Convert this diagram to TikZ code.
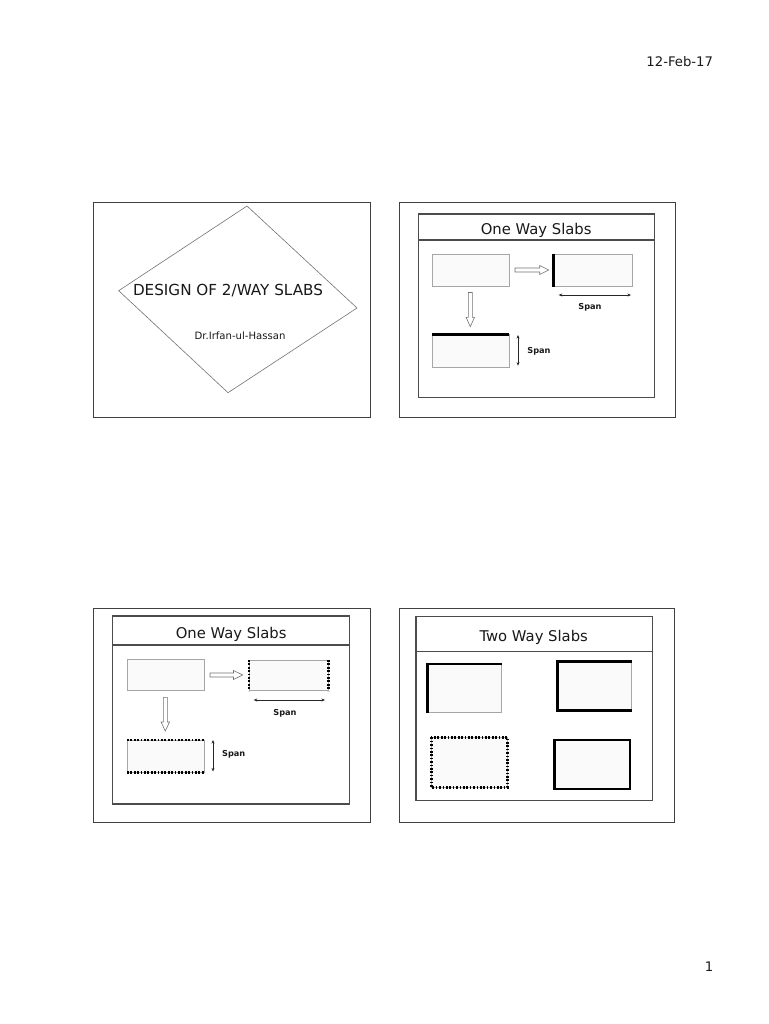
\documentclass[tikz,border=0pt]{standalone}
\usepackage{fontspec}
\setmainfont{DejaVu Sans}
\usetikzlibrary{arrows.meta}
\begin{document}
\begin{tikzpicture}[x=1pt,y=-1pt,
  slide/.style={draw=black!75,line width=0.9pt,minimum width=#1,minimum height=214pt,inner sep=0pt,anchor=north west},
  frame/.style={draw=black!70,line width=1.1pt},
  slab/.style={draw=black!35,line width=0.6pt,fill=black!2,inner sep=0pt,anchor=north west},
  heavy/.style={line width=2.6pt,black},
  dotedge/.style={line width=2.4pt,black,dash pattern=on 1.7pt off 1.7pt},
  hollow/.style={draw=black!55,line width=0.6pt,fill=white},
  spanarrow/.style={{Stealth[length=3.6pt,width=3pt]}-{Stealth[length=3.6pt,width=3pt]},line width=0.6pt,black!85},
  ttl/.style={font=\fontsize{14.8}{15}\selectfont,text=black!90,anchor=base,inner sep=0pt},
  spanlbl/.style={font=\bfseries\fontsize{8.2}{9}\selectfont,text=black!90,anchor=base,inner sep=0pt},
  pagetxt/.style={font=\fontsize{13.2}{14}\selectfont,text=black!90,anchor=base,inner sep=0pt}
]
\useasboundingbox[fill=white] (0,0) rectangle (768,1024);

% page texts
\node[pagetxt] (date) at (679.7,66.7) {12-Feb-17};
\node[pagetxt] (pnum) at (709,971) {1};

% ---------- slide 1 ----------
\node[slide=277pt] (p1) at (93,202.5) {};
\draw[draw=black!55,line width=0.6pt] (247,206) -- (357,308) -- (228,392.7) -- (118.7,290.7) -- cycle;
\node[ttl,font=\fontsize{15.2}{16}\selectfont] (t1) at (228,295) {DESIGN OF 2/WAY SLABS};
\node[ttl,font=\fontsize{10.1}{11}\selectfont] (a1) at (240,339.3) {Dr.Irfan-ul-Hassan};

% ---------- slide 2 ----------
\node[slide=276pt] (p2) at (398.5,202.5) {};
\draw[frame] (418.7,214) rectangle (654.7,397.7);
\draw[frame] (418.7,240) -- (654.7,240);
\node[ttl] (t2) at (536.2,234.3) {One Way Slabs};
\node[slab,minimum width=76.7pt,minimum height=31.4pt] (s2a) at (432,254.3) {};
\node[slab,minimum width=78.3pt,minimum height=31.7pt] (s2b) at (553.7,254.3) {};
\node[slab,minimum width=76.7pt,minimum height=32.4pt] (s2c) at (432,334.3) {};
\draw[heavy] (s2b.north west) -- (s2b.south west);
\draw[heavy] (s2c.north west) -- (s2c.north east);
% hollow arrows
\draw[hollow] (515,268) -- (539.7,268) -- (539.7,265.5) -- (548.7,270) -- (539.7,274.5) -- (539.7,272) -- (515,272) -- cycle;
\draw[hollow] (468.3,292.5) -- (472.3,292.5) -- (472.3,317.3) -- (474.5,317.3) -- (470.3,326.7) -- (466.1,317.3) -- (468.3,317.3) -- cycle;
% spans
\coordinate (h2a) at (558.7,295); \coordinate (h2b) at (631,295);
\draw[spanarrow] (h2a) -- (h2b);
\node[spanlbl] (l2a) at (590,309) {Span};
\coordinate (v2a) at (518,335); \coordinate (v2b) at (518,365.7);
\draw[spanarrow] (v2a) -- (v2b);
\node[spanlbl] (l2b) at (539,353.3) {Span};

% ---------- slide 3 ----------
\node[slide=277pt] (p3) at (93,607.5) {};
\draw[frame] (112.7,616) rectangle (349.7,804);
\draw[frame,line width=1.6pt] (112.7,645) -- (349.7,645);
\node[ttl] (t3) at (231.2,638.3) {One Way Slabs};
\node[slab,minimum width=76.7pt,minimum height=30.7pt] (s3a) at (127,659.3) {};
\node[slab,minimum width=79pt,minimum height=30pt] (s3b) at (248.7,660) {};
\node[slab,minimum width=76.7pt,minimum height=31.7pt] (s3c) at (127,740) {};
\draw[dotedge] (s3b.north west) -- (s3b.south west);
\draw[dotedge] (s3b.north east) -- (s3b.south east);
\draw[dotedge] (s3c.north west) -- (s3c.north east);
\draw[dotedge] (s3c.south west) -- (s3c.south east);
\draw[hollow] (210,673) -- (233.5,673) -- (233.5,670.5) -- (242.7,675) -- (233.5,679.5) -- (233.5,677) -- (210,677) -- cycle;
\draw[hollow] (163.3,697.3) -- (167.3,697.3) -- (167.3,722) -- (169.5,722) -- (165.3,731) -- (161.1,722) -- (163.3,722) -- cycle;
\coordinate (h3a) at (253.7,700); \coordinate (h3b) at (325,700);
\draw[spanarrow] (h3a) -- (h3b);
\node[spanlbl] (l3a) at (285,715) {Span};
\coordinate (v3a) at (213,740); \coordinate (v3b) at (213,771.5);
\draw[spanarrow] (v3a) -- (v3b);
\node[spanlbl] (l3b) at (233.7,756.7) {Span};

% ---------- slide 4 ----------
\node[slide=275.5pt] (p4) at (398.5,607.5) {};
\draw[frame] (416,616.7) rectangle (652.7,800.3);
\draw[frame] (416,651.7) -- (652.7,651.7);
\node[ttl] (t4) at (533.7,641.7) {Two Way Slabs};
\node[slab,minimum width=73.6pt,minimum height=48.3pt] (q1) at (427.7,664) {};
\node[slab,minimum width=73.7pt,minimum height=48.3pt] (q2) at (557.3,661.7) {};
\node[slab,minimum width=75.7pt,minimum height=49.4pt] (q3) at (431.3,737.3) {};
\node[slab,minimum width=74.6pt,minimum height=48.3pt] (q4) at (554.7,740) {};
\draw[heavy] (q1.south west) -- (q1.north west) -- (q1.north east);
\draw[heavy] (q2.north east) -- (q2.north west) -- (q2.south west) -- (q2.south east);
\draw[dotedge] (q3.north west) rectangle (q3.south east);
\draw[heavy] (q4.north west) rectangle (q4.south east);
\end{tikzpicture}
\end{document}
